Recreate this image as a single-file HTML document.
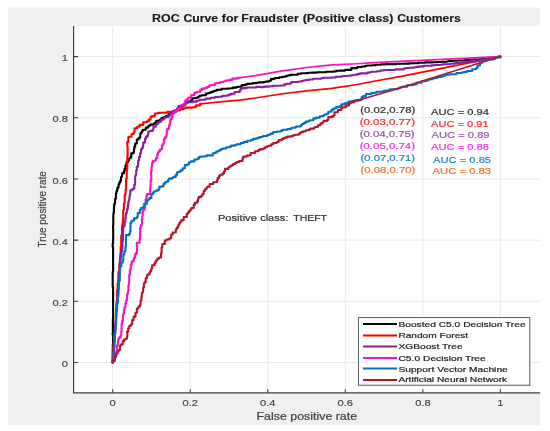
<!DOCTYPE html>
<html lang="en">
<head>
<meta charset="utf-8">
<title>ROC Curve for Fraudster (Positive class) Customers</title>
<style>
html,body{margin:0;padding:0;background:#ffffff;}
body{width:550px;height:431px;overflow:hidden;position:relative;font-family:"Liberation Sans",Arial,Helvetica,sans-serif;}
</style>
</head>
<body>
<svg width="550" height="431" viewBox="0 0 550 431" style="display:block;position:absolute;left:0;top:0;filter:blur(0.35px)" font-family="'Liberation Sans', Arial, Helvetica, sans-serif">
<rect x="0" y="0" width="550" height="431" fill="#ffffff"/>
<rect x="8" y="7.5" width="532.2" height="417.4" fill="#f0f0f0"/>
<rect x="73.6" y="26.0" width="466.6" height="366.8" fill="#ffffff"/>
<path d="M112.7,26.0 V392.8 M73.6,362.5 H540.2 M190.2,26.0 V392.8 M73.6,301.3 H540.2 M267.8,26.0 V392.8 M73.6,240.1 H540.2 M345.3,26.0 V392.8 M73.6,179.0 H540.2 M422.9,26.0 V392.8 M73.6,117.8 H540.2 M500.4,26.0 V392.8 M73.6,56.6 H540.2" stroke="#e6e6e6" stroke-width="0.9" fill="none"/>
<path d="M112.7,362.5 L112.7,360.4 L112.7,360.4 L112.7,360.4 L112.7,358.9 L112.7,358.9 L112.7,357.0 L112.7,357.0 L112.7,354.8 L112.7,354.8 L112.7,353.6 L112.7,351.6 L112.7,351.6 L112.7,349.6 L112.8,349.6 L112.8,349.6 L112.8,348.1 L112.8,348.1 L112.8,345.7 L112.8,343.9 L113.0,343.9 L113.0,342.2 L113.0,342.2 L113.0,342.2 L113.0,340.1 L113.0,340.1 L113.0,338.6 L113.0,338.6 L113.0,336.8 L113.0,335.0 L112.7,335.0 L112.7,332.9 L112.9,332.9 L112.9,331.6 L112.9,331.6 L112.9,331.6 L112.9,329.8 L112.9,329.8 L112.9,327.8 L112.9,325.4 L112.9,325.4 L112.9,323.9 L112.9,323.9 L112.9,322.2 L112.9,322.2 L112.9,320.2 L112.9,320.2 L112.9,318.3 L113.1,318.3 L113.1,316.6 L113.1,316.6 L113.1,316.6 L113.1,314.9 L113.1,314.9 L113.1,312.9 L113.1,312.9 L113.1,310.7 L113.1,310.7 L113.1,309.3 L113.1,307.1 L113.1,307.1 L113.1,305.3 L113.1,305.3 L113.1,303.8 L113.1,303.8 L113.1,303.8 L113.1,301.6 L113.1,301.6 L113.1,300.2 L113.1,300.2 L113.1,297.7 L113.1,297.7 L113.1,296.2 L113.1,296.2 L113.1,294.2 L113.1,292.8 L113.1,292.8 L113.1,290.6 L113.1,290.6 L113.1,289.0 L113.1,289.0 L113.1,289.0 L113.1,287.1 L112.7,287.1 L112.7,285.0 L112.7,285.0 L112.7,283.3 L112.7,283.3 L112.7,281.1 L112.7,281.1 L112.7,279.2 L112.7,279.2 L112.7,277.4 L112.7,276.2 L112.7,276.2 L112.7,276.2 L112.7,273.9 L112.7,272.0 L112.7,272.0 L113.1,272.0 L113.1,270.4 L113.1,270.4 L113.1,268.3 L113.1,268.3 L113.1,267.1 L113.1,265.4 L113.1,265.4 L113.1,265.4 L113.1,263.2 L113.1,261.7 L113.1,261.7 L113.1,261.7 L113.1,259.4 L113.1,257.9 L113.1,257.9 L113.1,257.9 L113.1,255.8 L113.1,254.5 L113.1,254.5 L113.1,252.5 L113.1,252.5 L113.1,252.5 L113.1,250.5 L113.1,250.5 L113.1,248.3 L113.1,247.0 L113.1,247.0 L112.7,247.0 L112.7,245.0 L112.7,243.5 L113.1,243.5 L113.1,243.5 L113.1,241.0 L113.1,239.1 L113.1,239.1 L113.2,239.1 L113.2,237.7 L113.2,237.7 L113.2,235.8 L113.2,234.0 L113.2,234.0 L113.2,234.0 L113.2,231.8 L113.2,229.8 L113.2,229.8 L113.2,228.0 L113.0,228.0 L113.0,225.9 L113.0,225.9 L113.3,225.9 L113.3,223.7 L113.3,222.3 L113.3,222.3 L113.3,220.3 L113.3,220.3 L113.3,217.9 L113.4,217.9 L113.3,217.9 L113.3,216.0 L113.3,214.4 L113.3,214.4 L113.6,214.4 L113.6,212.4 L114.0,212.4 L114.0,210.4 L114.0,210.4 L114.0,208.0 L114.1,208.0 L114.1,206.1 L114.2,206.1 L114.2,204.3 L114.9,204.3 L114.9,202.4 L115.1,202.4 L115.1,201.0 L115.1,198.8 L115.8,198.8 L115.9,198.8 L115.9,196.6 L115.9,194.8 L116.0,194.8 L116.0,193.3 L116.4,193.3 L116.4,191.5 L117.1,191.5 L117.1,189.7 L117.5,189.7 L117.5,187.5 L118.5,187.5 L118.5,185.8 L118.6,185.8 L118.6,184.2 L119.4,184.2 L119.4,182.3 L120.3,182.3 L120.3,180.5 L120.5,180.5 L121.0,180.5 L121.0,178.7 L121.0,177.0 L122.0,177.0 L122.0,175.0 L122.2,175.0 L122.2,173.1 L122.8,173.1 L124.1,173.1 L124.1,170.8 L124.6,170.8 L124.6,168.7 L125.4,168.7 L125.4,167.1 L125.4,165.5 L126.3,165.5 L126.3,163.7 L126.6,163.7 L126.6,162.1 L127.4,162.1 L128.2,162.1 L128.2,160.3 L129.2,160.3 L129.2,158.2 L130.7,158.2 L130.7,156.9 L131.3,156.9 L131.3,155.0 L131.3,153.3 L132.3,153.3 L133.6,153.3 L133.6,151.8 L134.0,151.8 L134.0,149.2 L134.3,149.2 L134.3,146.7 L135.2,146.7 L135.2,145.0 L135.2,143.5 L136.4,143.5 L136.8,143.5 L136.8,141.6 L136.8,139.5 L137.6,139.5 L138.7,139.5 L138.7,137.7 L140.2,137.7 L140.2,136.5 L140.2,134.8 L140.6,134.8 L140.6,132.7 L141.9,132.7 L141.9,131.1 L142.8,131.1 L142.8,129.8 L144.4,129.8 L145.8,129.8 L145.8,129.1 L145.8,127.6 L147.0,127.6 L148.3,127.6 L148.3,127.0 L148.3,125.8 L150.1,125.8 L150.1,124.6 L151.6,124.6 L153.4,124.6 L153.4,124.0 L154.7,124.0 L154.7,122.7 L156.3,122.7 L156.3,121.7 L156.3,120.7 L158.3,120.7 L159.7,120.7 L159.7,119.8 L161.5,119.8 L161.5,118.1 L163.6,118.1 L163.6,117.2 L165.6,117.2 L165.6,116.3 L167.2,116.3 L167.2,115.6 L169.3,115.6 L169.3,114.2 L169.3,113.2 L171.1,113.2 L172.8,113.2 L172.8,112.8 L172.8,111.4 L174.5,111.4 L176.2,111.4 L176.2,110.3 L177.4,110.3 L177.4,108.6 L178.7,108.6 L178.7,107.9 L178.7,106.2 L180.3,106.2 L182.4,106.2 L182.4,105.5 L183.6,105.5 L183.6,104.1 L185.3,104.1 L185.3,103.1 L185.3,102.0 L187.2,102.0 L189.4,102.0 L189.4,101.2 L191.2,101.2 L191.2,100.1 L192.3,100.1 L192.3,99.2 L192.3,98.3 L194.5,98.3 L196.1,98.3 L196.1,97.7 L198.0,97.7 L198.0,96.7 L199.6,96.7 L199.6,96.0 L199.6,95.8 L201.6,95.8 L201.6,95.2 L203.8,95.2 L205.8,95.2 L205.8,94.4 L205.8,93.6 L207.7,93.6 L207.7,93.2 L209.1,93.2 L209.1,92.8 L210.6,92.8 L210.6,92.1 L212.8,92.1 L212.8,91.2 L214.3,91.2 L214.3,90.8 L216.6,90.8 L216.6,89.9 L218.2,89.9 L218.2,89.8 L220.3,89.8 L221.6,89.8 L221.6,89.0 L221.6,88.8 L223.5,88.8 L223.5,88.8 L225.4,88.8 L227.3,88.8 L227.3,88.6 L227.3,88.5 L229.2,88.5 L230.8,88.5 L230.8,88.2 L232.8,88.2 L232.8,87.6 L234.2,87.6 L234.2,87.6 L236.4,87.6 L236.4,87.6 L236.4,87.0 L237.9,87.0 L237.9,86.8 L239.8,86.8 L241.7,86.8 L241.7,86.1 L241.7,85.1 L243.2,85.1 L245.3,85.1 L245.3,84.5 L247.2,84.5 L247.2,83.9 L247.2,83.9 L248.8,83.9 L248.8,83.7 L251.0,83.7 L252.7,83.7 L252.7,83.6 L252.7,83.1 L254.8,83.1 L256.7,83.1 L256.7,82.8 L258.5,82.8 L258.5,82.8 L258.5,82.4 L259.9,82.4 L261.7,82.4 L261.7,82.4 L263.8,82.4 L263.8,82.4 L263.8,82.0 L265.6,82.0 L265.6,81.5 L267.5,81.5 L269.2,81.5 L269.2,80.7 L271.0,80.7 L271.0,79.1 L273.3,79.1 L273.3,78.7 L275.0,78.7 L275.0,78.0 L277.0,78.0 L277.0,78.0 L279.2,78.0 L279.2,77.8 L279.2,77.3 L281.2,77.3 L282.6,77.3 L282.6,76.7 L285.1,76.7 L285.1,76.4 L286.5,76.4 L286.5,75.8 L288.5,75.8 L288.5,75.6 L288.5,75.2 L290.6,75.2 L290.6,74.9 L291.9,74.9 L291.9,74.7 L293.6,74.7 L293.6,74.7 L296.0,74.7 L296.0,74.7 L297.8,74.7 L297.8,73.7 L299.4,73.7 L299.4,73.7 L301.0,73.7 L301.0,73.2 L302.6,73.2 L304.3,73.2 L304.3,73.2 L306.4,73.2 L306.4,73.1 L308.4,73.1 L308.4,73.1 L308.4,72.8 L310.2,72.8 L311.8,72.8 L311.8,72.6 L313.4,72.6 L313.4,72.6 L313.4,72.6 L315.2,72.6 L317.2,72.6 L317.2,72.3 L318.8,72.3 L318.8,72.3 L318.8,72.2 L320.7,72.2 L323.0,72.2 L323.0,72.2 L324.5,72.2 L324.5,72.2 L326.2,72.2 L326.2,71.7 L326.2,71.7 L328.5,71.7 L330.1,71.7 L330.1,71.7 L331.8,71.7 L331.8,71.8 L333.5,71.8 L333.5,71.5 L333.5,71.5 L336.0,71.5 L336.0,70.8 L337.2,70.8 L337.2,70.8 L339.8,70.8 L339.8,70.6 L341.0,70.6 L341.0,70.6 L343.5,70.6 L345.0,70.6 L345.0,69.9 L345.0,70.0 L347.1,70.0 L347.1,69.9 L349.3,69.9 L351.3,69.9 L351.3,69.2 L351.3,68.1 L353.3,68.1 L353.3,68.1 L355.0,68.1 L357.3,68.1 L357.3,67.5 L357.3,67.0 L359.1,67.0 L361.6,67.0 L361.6,66.5 L363.5,66.5 L363.5,66.5 L365.3,66.5 L365.3,66.2 L365.3,65.8 L367.5,65.8 L367.5,65.5 L369.7,65.5 L372.0,65.5 L372.0,65.3 L372.0,65.3 L373.4,65.3 L375.5,65.3 L375.5,64.7 L377.7,64.7 L377.7,64.7 L379.7,64.7 L379.7,64.7 L381.2,64.7 L381.2,64.5 L381.2,64.3 L383.7,64.3 L383.7,64.4 L385.5,64.4 L385.5,64.1 L387.3,64.1 L389.0,64.1 L389.0,64.1 L390.7,64.1 L390.7,64.1 L393.1,64.1 L393.1,64.1 L393.1,64.1 L394.3,64.1 L396.7,64.1 L396.7,63.8 L398.0,63.8 L398.0,63.8 L400.0,63.8 L400.0,64.0 L400.0,63.8 L401.5,63.8 L401.5,63.8 L403.9,63.8 L405.8,63.8 L405.8,63.6 L407.6,63.6 L407.6,63.6 L409.2,63.6 L409.2,63.4 L410.8,63.4 L410.8,63.2 L410.8,63.2 L412.6,63.2 L414.2,63.2 L414.2,63.2 L414.2,63.2 L416.2,63.2 L418.1,63.2 L418.1,62.7 L419.9,62.7 L419.9,62.7 L421.7,62.7 L421.7,62.7 L421.7,62.7 L423.6,62.7 L425.1,62.7 L425.1,62.4 L425.1,62.4 L427.6,62.4 L429.4,62.4 L429.4,62.4 L431.3,62.4 L431.3,62.4 L432.9,62.4 L432.9,62.2 L432.9,62.2 L434.1,62.2 L436.5,62.2 L436.5,62.2 L436.5,62.1 L438.0,62.1 L438.0,62.0 L440.0,62.0 L441.7,62.0 L441.7,61.7 L443.6,61.7 L443.6,61.7 L443.6,61.7 L445.7,61.7 L447.5,61.7 L447.5,61.6 L447.5,61.3 L448.9,61.3 L448.9,61.0 L450.6,61.0 L452.5,61.0 L452.5,60.8 L452.5,60.8 L454.6,60.8 L456.7,60.8 L456.7,60.8 L457.8,60.8 L457.8,60.5 L460.2,60.5 L460.2,60.5 L460.2,60.5 L461.8,60.5 L461.8,60.5 L463.8,60.5 L465.2,60.5 L465.2,60.5 L465.2,60.1 L467.3,60.1 L468.9,60.1 L468.9,59.9 L468.9,59.9 L470.6,59.9 L470.6,59.8 L472.6,59.8 L472.6,59.5 L474.6,59.5 L476.5,59.5 L476.5,59.5 L476.5,59.5 L478.2,59.5 L478.2,59.4 L480.0,59.4 L481.5,59.4 L481.5,59.0 L481.5,59.0 L483.5,59.0 L483.5,58.5 L485.9,58.5 L485.9,58.2 L487.4,58.2 L487.4,57.8 L489.6,57.8 L491.2,57.8 L491.2,57.6 L492.7,57.6 L492.7,57.4 L494.9,57.4 L494.9,57.4 L494.9,57.0 L496.3,57.0 L498.3,57.0 L498.3,56.7 L498.3,56.6 L500.4,56.6" stroke="#000000" stroke-width="2.1" fill="none" stroke-linejoin="round" stroke-linecap="round"/>
<path d="M112.7,362.5 L112.8,362.5 L112.8,360.1 L112.8,358.4 L112.8,358.4 L112.8,356.0 L112.8,356.0 L113.0,356.0 L113.0,354.0 L113.0,351.9 L113.5,351.9 L113.2,351.9 L113.2,350.0 L113.2,348.4 L113.3,348.4 L113.3,346.0 L113.4,346.0 L113.4,344.0 L113.5,344.0 L113.8,344.0 L113.8,342.8 L114.3,342.8 L114.3,340.6 L114.3,338.8 L114.3,338.8 L114.3,336.5 L114.7,336.5 L114.5,336.5 L114.5,335.0 L114.6,335.0 L114.6,332.9 L114.7,332.9 L114.7,331.7 L114.7,329.7 L114.8,329.7 L114.8,327.3 L114.8,327.3 L115.4,327.3 L115.4,325.8 L115.4,323.8 L115.5,323.8 L115.5,323.8 L115.5,322.4 L115.6,322.4 L115.6,320.0 L115.8,320.0 L115.8,318.7 L115.8,316.5 L115.8,316.5 L115.8,316.5 L115.8,314.4 L116.0,314.4 L116.0,313.2 L116.0,313.2 L116.0,311.2 L116.0,308.9 L116.3,308.9 L116.3,308.9 L116.3,307.4 L116.3,307.4 L116.3,305.5 L116.3,303.6 L116.5,303.6 L116.5,303.6 L116.5,301.7 L116.8,301.7 L116.8,299.9 L117.0,299.9 L117.0,298.3 L117.0,298.3 L117.0,296.2 L117.0,296.2 L117.0,294.3 L117.1,294.3 L117.1,292.5 L117.1,290.3 L117.4,290.3 L117.7,290.3 L117.7,288.7 L117.7,286.8 L117.7,286.8 L117.7,286.8 L117.7,285.0 L117.7,283.6 L118.1,283.6 L118.1,281.1 L118.3,281.1 L118.3,279.8 L118.3,279.8 L118.3,277.9 L118.3,277.9 L118.3,275.7 L118.3,275.7 L118.4,275.7 L118.4,274.3 L118.4,271.8 L119.1,271.8 L119.3,271.8 L119.3,270.0 L119.3,270.0 L119.3,268.3 L119.3,266.3 L119.3,266.3 L119.6,266.3 L119.6,265.0 L119.6,262.6 L119.9,262.6 L119.9,260.9 L119.9,260.9 L119.9,259.3 L120.0,259.3 L120.0,257.7 L120.0,257.7 L120.3,257.7 L120.3,255.5 L120.3,253.5 L120.7,253.5 L120.7,251.7 L120.7,251.7 L120.7,249.8 L120.7,249.8 L120.7,249.8 L120.7,248.5 L120.7,246.8 L121.0,246.8 L121.2,246.8 L121.2,244.4 L121.2,242.5 L121.2,242.5 L121.2,240.9 L121.2,240.9 L121.2,238.9 L121.2,238.9 L121.2,238.9 L121.2,236.9 L121.3,236.9 L121.3,235.4 L121.8,235.4 L121.8,233.7 L122.0,233.7 L122.0,231.8 L122.0,230.0 L122.0,230.0 L122.0,230.0 L122.0,227.9 L122.0,226.6 L122.4,226.6 L122.4,226.6 L122.4,224.3 L122.8,224.3 L122.8,222.7 L122.8,220.7 L123.0,220.7 L123.0,218.7 L123.2,218.7 L123.2,218.7 L123.2,217.1 L123.2,214.9 L123.2,214.9 L123.2,213.4 L123.2,213.4 L123.2,211.3 L123.4,211.3 L123.4,209.8 L123.9,209.8 L123.9,209.8 L123.9,207.7 L123.9,206.3 L123.9,206.3 L123.9,203.8 L124.5,203.8 L124.5,202.3 L124.7,202.3 L124.7,202.3 L124.7,200.5 L124.7,200.5 L124.7,198.4 L124.7,196.7 L124.7,196.7 L124.7,195.3 L125.3,195.3 L125.3,195.3 L125.3,193.3 L125.6,193.3 L125.6,191.4 L125.6,191.4 L125.6,189.9 L126.0,189.9 L126.0,187.4 L126.0,186.1 L126.0,186.1 L126.0,184.0 L126.1,184.0 L126.1,182.1 L126.1,182.1 L126.1,180.6 L126.3,180.6 L126.3,178.6 L126.7,178.6 L126.7,178.6 L126.7,177.1 L126.7,175.0 L126.6,175.0 L126.7,175.0 L126.7,173.0 L126.7,170.9 L126.9,170.9 L126.9,170.9 L126.9,169.0 L127.3,169.0 L127.3,167.4 L127.3,165.3 L127.3,165.3 L127.3,164.0 L127.3,164.0 L127.3,164.0 L127.3,162.0 L127.3,160.3 L127.5,160.3 L127.3,160.3 L127.3,158.2 L127.3,156.5 L127.6,156.5 L127.6,156.5 L127.6,154.0 L127.6,152.5 L127.6,152.5 L127.6,150.5 L127.6,150.5 L127.6,150.5 L127.6,147.9 L127.6,147.9 L127.6,146.0 L127.3,146.0 L127.3,144.2 L127.3,144.2 L127.3,141.9 L128.3,141.9 L128.3,139.8 L128.3,137.8 L128.5,137.8 L128.5,136.8 L130.2,136.8 L131.5,136.8 L131.5,135.2 L131.5,134.0 L133.6,134.0 L133.6,132.3 L134.1,132.3 L134.6,132.3 L134.6,130.5 L134.6,128.3 L135.5,128.3 L137.2,128.3 L137.2,126.8 L139.6,126.8 L139.6,126.4 L139.6,124.9 L141.3,124.9 L143.2,124.9 L143.2,123.8 L143.2,122.2 L145.1,122.2 L146.8,122.2 L146.8,121.3 L148.9,121.3 L148.9,119.5 L150.6,119.5 L150.6,118.3 L150.6,116.8 L152.0,116.8 L152.0,116.1 L153.6,116.1 L154.8,116.1 L154.8,114.6 L154.8,113.5 L156.4,113.5 L157.9,113.5 L157.9,113.5 L157.9,112.9 L159.8,112.9 L159.8,112.8 L161.9,112.8 L161.9,112.7 L163.5,112.7 L163.5,112.7 L165.7,112.7 L167.3,112.7 L167.3,112.3 L167.3,111.8 L169.0,111.8 L171.0,111.8 L171.0,111.8 L171.0,111.8 L172.7,111.8 L174.5,111.8 L174.5,111.4 L176.3,111.4 L176.3,111.2 L176.3,110.2 L177.9,110.2 L180.3,110.2 L180.3,109.6 L180.3,109.2 L181.6,109.2 L183.4,109.2 L183.4,108.7 L183.4,108.3 L185.5,108.3 L185.5,107.7 L187.5,107.7 L187.5,107.6 L188.8,107.6 L191.1,107.6 L191.1,107.6 L192.5,107.6 L192.5,107.2 L194.5,107.2 L194.5,106.8 L196.2,106.8 L196.2,105.7 L196.2,105.4 L198.4,105.4 L200.1,105.4 L200.1,104.4 L200.1,103.7 L201.8,103.7" stroke="#ff0000" stroke-width="2.1" fill="none" stroke-linejoin="round" stroke-linecap="round"/>
<path d="M201.8,103.7 L220.0,101.9 L239.8,100.1 L255.5,98.0 L280.9,94.0 L306.4,90.9 L331.8,88.4 L357.3,84.5 L369.7,82.0 L400.0,76.6 L500.4,56.6" stroke="#ff0000" stroke-width="1.6" fill="none" stroke-linejoin="round" stroke-linecap="round"/>
<path d="M112.7,362.5 L112.7,360.6 L112.8,360.6 L112.8,358.4 L113.0,358.4 L113.0,356.0 L113.1,356.0 L113.1,354.3 L113.6,354.3 L113.6,352.0 L113.5,352.0 L113.8,352.0 L113.8,350.2 L113.8,350.2 L113.8,348.3 L113.8,346.6 L113.9,346.6 L114.3,346.6 L114.3,344.2 L114.3,344.2 L114.3,342.7 L114.6,342.7 L114.6,341.0 L114.8,341.0 L114.8,339.0 L114.8,339.0 L114.8,337.3 L114.8,335.0 L115.0,335.0 L115.0,333.4 L115.0,333.4 L115.0,331.0 L115.2,331.0 L115.2,329.6 L115.4,329.6 L115.4,327.9 L115.6,327.9 L115.6,327.9 L115.6,326.1 L115.6,323.9 L115.8,323.9 L115.8,323.9 L115.8,322.5 L115.8,322.5 L115.8,320.1 L115.8,320.1 L115.8,318.3 L116.3,318.3 L116.3,316.4 L116.3,314.9 L116.3,314.9 L116.3,312.7 L116.4,312.7 L116.4,312.7 L116.4,310.8 L116.4,309.4 L116.8,309.4 L116.8,309.4 L116.8,307.4 L116.8,305.5 L116.8,305.5 L116.8,303.7 L116.8,303.7 L117.3,303.7 L117.3,301.7 L117.3,299.6 L117.3,299.6 L117.3,299.6 L117.3,298.3 L117.4,298.3 L117.4,296.0 L117.4,293.9 L117.4,293.9 L117.6,293.9 L117.6,292.3 L117.6,290.5 L117.9,290.5 L117.9,288.6 L118.2,288.6 L118.2,286.5 L118.5,286.5 L118.5,285.0 L118.4,285.0 L118.4,282.8 L118.7,282.8 L118.7,282.8 L118.7,280.7 L119.1,280.7 L119.1,279.3 L119.1,279.3 L119.1,277.0 L119.2,277.0 L119.2,275.2 L119.4,275.2 L119.4,273.6 L119.4,271.5 L119.6,271.5 L119.6,269.8 L119.6,269.8 L119.6,267.3 L119.8,267.3 L119.8,265.6 L119.6,265.6 L119.6,263.7 L120.1,263.7 L120.2,263.7 L120.2,261.7 L120.2,261.7 L120.2,260.1 L120.7,260.1 L120.7,258.0 L120.7,256.5 L121.0,256.5 L121.0,256.5 L121.0,254.9 L121.0,252.9 L121.7,252.9 L121.7,250.9 L121.8,250.9 L122.2,250.9 L122.2,249.1 L122.4,249.1 L122.4,247.3 L122.4,245.4 L122.5,245.4 L122.5,243.8 L122.5,243.8 L122.5,243.8 L122.5,241.8 L122.8,241.8 L122.8,239.7 L123.0,239.7 L123.0,237.5 L123.0,237.5 L123.0,235.9 L123.0,233.8 L123.0,233.8 L123.0,231.7 L123.3,231.7 L123.1,231.7 L123.1,230.0 L123.1,227.8 L123.6,227.8 L123.6,225.9 L124.1,225.9 L124.6,225.9 L124.6,224.2 L124.6,221.9 L124.7,221.9 L125.3,221.9 L125.3,220.4 L125.3,218.6 L125.8,218.6 L125.8,218.6 L125.8,216.2 L125.8,214.8 L126.1,214.8 L126.1,212.8 L126.9,212.8 L126.9,210.7 L127.2,210.7 L127.2,208.8 L127.7,208.8 L127.9,208.8 L127.9,206.8 L127.9,204.9 L128.3,204.9 L128.3,204.9 L128.3,202.9 L128.3,201.6 L129.0,201.6 L129.0,199.7 L129.0,199.7 L129.4,199.7 L129.4,197.4 L129.6,197.4 L129.6,195.7 L130.0,195.7 L130.0,194.3 L130.3,194.3 L130.3,191.8 L130.3,190.3 L130.5,190.3 L132.5,190.3 L132.5,188.7 L134.3,188.7 L134.3,186.5 L134.3,184.7 L134.4,184.7 L135.1,184.7 L135.1,182.6 L135.1,182.6 L135.1,180.9 L135.1,180.9 L135.1,178.4 L135.1,176.6 L135.4,176.6 L135.5,176.6 L135.5,175.0 L136.2,175.0 L136.2,172.5 L136.2,170.4 L136.5,170.4 L136.8,170.4 L136.8,168.4 L136.8,166.7 L136.9,166.7 L138.0,166.7 L138.0,164.8 L138.2,164.8 L138.2,162.8 L138.2,160.5 L138.9,160.5 L139.1,160.5 L139.1,158.4 L139.1,156.9 L139.4,156.9 L140.2,156.9 L140.2,154.7 L140.2,153.0 L140.7,153.0 L141.0,153.0 L141.0,151.1 L141.0,149.6 L141.6,149.6 L141.8,149.6 L141.8,148.1 L142.8,148.1 L142.8,146.1 L143.2,146.1 L143.2,144.2 L143.2,142.6 L144.3,142.6 L145.0,142.6 L145.0,140.2 L145.0,138.6 L146.1,138.6 L146.1,136.6 L146.5,136.6 L147.7,136.6 L147.7,134.7 L148.3,134.7 L148.3,132.7 L148.3,131.5 L150.1,131.5 L150.1,130.9 L151.3,130.9 L152.7,130.9 L152.7,129.5 L153.4,129.5 L153.4,127.8 L153.4,126.8 L154.9,126.8 L155.9,126.8 L155.9,125.1 L155.9,124.2 L157.7,124.2 L157.7,122.7 L159.0,122.7 L159.0,121.9 L160.8,121.9 L160.8,120.3 L161.9,120.3 L161.9,119.5 L163.6,119.5 L163.6,118.5 L164.9,118.5 L164.9,117.3 L166.5,117.3 L168.2,117.3 L168.2,115.8 L170.0,115.8 L170.0,115.1 L170.0,114.0 L171.1,114.0 L171.1,112.6 L172.7,112.6 L172.7,111.4 L174.5,111.4 L174.5,110.4 L176.1,110.4 L177.5,110.4 L177.5,109.1 L177.5,108.2 L179.5,108.2 L180.8,108.2 L180.8,107.3 L182.1,107.3 L182.1,106.7 L182.1,105.4 L183.8,105.4 L185.4,105.4 L185.4,104.3 L185.4,103.2 L187.3,103.2 L187.3,102.4 L188.7,102.4 L188.7,102.3 L191.2,102.3 L192.6,102.3 L192.6,102.1 L192.6,101.6 L194.9,101.6 L196.8,101.6 L196.8,100.8 L198.2,100.8 L198.2,100.5 L199.8,100.5 L199.8,99.8 L201.9,99.8 L201.9,99.8 L204.0,99.8 L204.0,99.8 L205.5,99.8 L205.5,99.0 L205.5,98.6 L207.6,98.6 L207.6,98.6 L209.2,98.6 L210.8,98.6 L210.8,98.0 L210.8,97.7 L212.7,97.7 L214.9,97.7 L214.9,97.2 L214.9,97.0 L216.2,97.0 L218.5,97.0 L218.5,97.0 L218.5,96.7 L220.2,96.7 L222.2,96.7 L222.2,95.9 L222.2,95.9 L223.9,95.9 L223.9,95.8 L225.3,95.8 L227.3,95.8 L227.3,95.4 L228.9,95.4 L228.9,94.6 L230.9,94.6 L230.9,93.9 L232.4,93.9 L232.4,93.7 L234.6,93.7 L234.6,92.6 L234.6,92.0 L236.6,92.0 L238.3,92.0 L238.3,91.9 L239.8,91.9 L239.8,91.0 L239.8,90.0 L240.9,90.0 L240.9,88.4 L242.7,88.4 L242.7,88.1 L244.6,88.1 L246.6,88.1 L246.6,88.1 L246.6,87.6 L248.4,87.6 L248.4,87.5 L250.7,87.5 L252.4,87.5 L252.4,87.5 L254.4,87.5 L254.4,87.5 L256.3,87.5 L256.3,87.4 L256.3,86.9 L258.8,86.9 L260.5,86.9 L260.5,87.1 L262.7,87.1 L262.7,87.1 L264.2,87.1 L264.2,86.7 L264.2,86.6 L265.8,86.6 L268.3,86.6 L268.3,86.6 L269.6,86.6 L269.6,86.6 L269.6,86.2 L271.8,86.2 L273.1,86.2 L273.1,86.2 L273.1,85.8 L275.0,85.8 L277.2,85.8 L277.2,85.8 L277.2,85.7 L279.4,85.7 L280.9,85.7 L280.9,85.8 L280.9,85.5 L282.5,85.5 L284.3,85.5 L284.3,84.4 L286.4,84.4 L286.4,84.2 L286.4,83.7 L287.9,83.7 L290.2,83.7 L290.2,83.2 L291.4,83.2 L291.4,82.7 L291.4,82.0 L293.6,82.0 L295.2,82.0 L295.2,82.0 L297.8,82.0 L297.8,81.7 L299.1,81.7 L299.1,81.5 L301.8,81.5 L301.8,80.7 L303.8,80.7 L303.8,80.5 L305.4,80.5 L305.4,80.4 L305.4,80.0 L307.5,80.0 L307.5,79.9 L309.1,79.9 L309.1,79.5 L311.4,79.5 L313.1,79.5 L313.1,79.5 L313.1,78.8 L315.3,78.8 L315.3,78.8 L317.3,78.8 L318.8,78.8 L318.8,78.8 L321.0,78.8 L321.0,78.5 L321.0,78.3 L322.2,78.3 L322.2,78.0 L324.0,78.0 L324.0,77.8 L326.0,77.8 L326.0,77.8 L328.2,77.8 L328.2,77.8 L329.6,77.8 L331.8,77.8 L331.8,77.7 L331.8,77.5 L333.5,77.5 L335.6,77.5 L335.6,76.9 L335.6,76.9 L337.4,76.9 L337.4,76.8 L339.4,76.8 L339.4,76.8 L341.4,76.8 L341.4,76.2 L343.6,76.2 L343.6,76.0 L345.7,76.0 L347.8,76.0 L347.8,75.7 L349.6,75.7 L349.6,75.6 L349.6,75.6 L351.4,75.6 L351.4,75.3 L353.6,75.3 L353.6,74.8 L354.7,74.8 L357.3,74.8 L357.3,74.3 L357.3,74.1 L358.8,74.1 L358.8,73.9 L360.2,73.9 L360.2,73.4 L362.0,73.4 L362.0,73.4 L364.4,73.4 L364.4,73.4 L366.3,73.4 L367.5,73.4 L367.5,73.0 L367.5,72.6 L369.7,72.6 L369.7,72.3 L371.3,72.3 L371.3,71.7 L373.4,71.7 L375.0,71.7 L375.0,71.7 L376.7,71.7 L376.7,71.3 L376.7,71.2 L378.7,71.2 L380.4,71.2 L380.4,70.5 L382.3,70.5 L382.3,70.4 L384.0,70.4 L384.0,70.0 L386.2,70.0 L386.2,70.0 L386.2,70.0 L387.9,70.0 L387.9,70.0 L390.3,70.0 L391.9,70.0 L391.9,70.0 L394.2,70.0 L394.2,69.8 L395.9,69.8 L395.9,69.4 L395.9,69.4 L398.0,69.4 L400.0,69.4 L400.0,69.4 L401.7,69.4 L401.7,69.4 L403.7,69.4 L403.7,68.9 L403.7,68.5 L405.8,68.5 L405.8,68.0 L407.0,68.0 L409.0,68.0 L409.0,67.8 L410.9,67.8 L410.9,67.8 L410.9,67.8 L412.5,67.8 L414.3,67.8 L414.3,67.2 L414.3,67.2 L416.5,67.2 L416.5,66.9 L418.4,66.9 L418.4,66.6 L420.0,66.6 L420.0,66.4 L422.1,66.4 L423.9,66.4 L423.9,66.4 L423.9,65.7 L425.9,65.7 L425.9,65.7 L427.6,65.7 L427.6,65.7 L429.4,65.7 L431.5,65.7 L431.5,65.7 L431.5,65.4 L433.1,65.4 L433.1,65.2 L434.8,65.2 L434.8,65.0 L436.8,65.0 L439.0,65.0 L439.0,65.0 L440.4,65.0 L440.4,64.7 L442.6,64.7 L442.6,64.7 L442.6,64.3 L444.7,64.3 L446.5,64.3 L446.5,64.3 L448.1,64.3 L448.1,64.3 L450.0,64.3 L450.0,64.0 L450.0,63.8 L451.9,63.8 L451.9,63.6 L454.0,63.6 L454.0,63.4 L455.6,63.4 L455.6,63.0 L457.4,63.0 L457.4,63.0 L459.3,63.0 L461.3,63.0 L461.3,62.4 L461.3,62.4 L463.0,62.4 L465.3,62.4 L465.3,62.4 L465.3,62.2 L466.8,62.2 L466.8,61.9 L468.6,61.9 L468.6,61.5 L470.4,61.5 L472.8,61.5 L472.8,61.5 L472.8,61.4 L474.7,61.4 L476.6,61.4 L476.6,61.3 L476.6,60.6 L477.9,60.6 L477.9,60.6 L480.0,60.6 L480.0,60.0 L481.6,60.0 L481.6,59.8 L483.8,59.8 L485.7,59.8 L485.7,59.1 L485.7,59.0 L487.6,59.0 L487.6,58.6 L488.9,58.6 L491.2,58.6 L491.2,58.6 L493.0,58.6 L493.0,58.1 L493.0,57.7 L495.0,57.7 L496.8,57.7 L496.8,57.3 L498.3,57.3 L498.3,57.2 L500.4,57.2 L500.4,56.6" stroke="#8a1fa0" stroke-width="2.1" fill="none" stroke-linejoin="round" stroke-linecap="round"/>
<path d="M112.7,362.5 L112.7,360.6 L113.3,360.6 L114.5,360.6 L114.5,359.0 L114.9,359.0 L114.9,357.1 L114.9,355.0 L116.1,355.0 L116.3,355.0 L116.3,352.9 L116.3,351.6 L116.3,351.6 L116.8,351.6 L116.8,349.4 L116.8,347.8 L116.9,347.8 L116.9,345.6 L117.9,345.6 L117.9,343.4 L117.9,343.4 L117.9,341.8 L118.3,341.8 L118.3,339.9 L118.6,339.9 L118.6,338.2 L118.6,338.2 L119.7,338.2 L119.7,336.9 L120.9,336.9 L120.9,334.9 L121.3,334.9 L121.3,332.6 L121.3,330.8 L121.6,330.8 L121.6,330.8 L121.6,328.6 L121.6,328.6 L121.6,327.2 L121.6,324.4 L121.9,324.4 L121.9,324.4 L121.9,322.7 L122.2,322.7 L122.2,320.7 L122.9,320.7 L122.9,318.7 L122.9,318.7 L122.9,316.7 L123.0,316.7 L123.0,315.1 L123.5,315.1 L123.5,313.3 L124.0,313.3 L124.0,311.5 L124.0,309.6 L124.6,309.6 L124.6,307.3 L124.7,307.3 L125.4,307.3 L125.4,305.5 L125.4,303.4 L126.1,303.4 L126.1,303.4 L126.1,301.6 L126.2,301.6 L126.2,300.2 L127.1,300.2 L127.1,298.3 L127.1,298.3 L127.1,296.4 L127.1,294.2 L127.8,294.2 L127.8,292.7 L127.9,292.7 L127.9,292.7 L127.9,291.1 L128.4,291.1 L128.4,289.1 L128.4,289.1 L128.4,286.9 L128.4,285.3 L128.9,285.3 L128.9,285.3 L128.9,283.7 L129.0,283.7 L129.0,281.7 L129.2,281.7 L129.2,280.0 L129.2,277.9 L129.2,277.9 L129.2,276.3 L129.2,276.3 L129.2,274.5 L129.2,274.5 L129.9,274.5 L129.9,272.8 L129.9,270.1 L129.9,270.1 L130.5,270.1 L130.5,268.3 L130.8,268.3 L130.8,266.6 L130.8,264.4 L131.1,264.4 L131.8,264.4 L131.8,262.9 L131.8,261.4 L132.4,261.4 L133.7,261.4 L133.7,259.1 L134.1,259.1 L134.1,257.6 L135.1,257.6 L135.1,255.8 L135.1,254.3 L136.1,254.3 L136.1,252.9 L136.8,252.9 L137.0,252.9 L137.0,250.5 L137.0,250.5 L137.0,248.3 L137.1,248.3 L137.1,246.4 L136.8,246.4 L136.8,244.0 L136.8,242.7 L139.4,242.7 L139.6,242.7 L139.6,240.5 L139.6,240.5 L139.6,239.3 L140.0,239.3 L140.0,237.5 L140.0,235.4 L140.0,235.4 L140.1,235.4 L140.1,233.5 L140.1,231.8 L140.3,231.8 L140.3,230.0 L140.0,230.0 L140.0,228.1 L140.8,228.1 L140.8,225.2 L141.2,225.2 L141.9,225.2 L141.9,223.4 L142.0,223.4 L142.0,221.8 L142.0,219.2 L142.3,219.2 L142.3,217.5 L142.4,217.5 L142.4,215.8 L142.7,215.8 L142.7,215.8 L142.7,213.5 L142.5,213.5 L142.5,211.9 L143.1,211.9 L143.1,210.0 L144.4,210.0 L144.4,208.6 L145.1,208.6 L145.1,206.8 L145.1,204.9 L145.4,204.9 L145.4,203.0 L145.5,203.0 L145.6,203.0 L145.6,201.4 L145.6,199.6 L146.4,199.6 L146.4,197.9 L146.4,197.9 L146.4,196.1 L146.7,196.1 L147.0,196.1 L147.0,194.1 L150.2,194.1 L150.2,192.8 L150.2,192.8 L150.2,190.6 L150.2,188.6 L150.2,188.6 L150.5,188.6 L150.5,186.6 L150.6,186.6 L150.6,184.8 L150.6,182.5 L150.6,182.5 L150.6,180.6 L151.0,180.6 L151.3,180.6 L151.3,179.0 L151.3,179.0 L151.3,176.9 L151.3,175.0 L151.1,175.0 L151.1,173.2 L151.1,173.2 L151.1,171.1 L151.6,171.1 L151.6,171.1 L151.6,168.5 L151.6,166.8 L151.6,166.8 L152.1,166.8 L152.1,164.5 L152.1,163.0 L152.8,163.0 L152.8,161.1 L154.3,161.1 L155.2,161.1 L155.2,160.0 L155.9,160.0 L155.9,158.2 L157.2,158.2 L157.2,156.3 L157.2,154.5 L158.0,154.5 L158.0,152.5 L158.8,152.5 L158.8,151.3 L160.1,151.3 L160.1,149.3 L161.0,149.3 L162.0,149.3 L162.0,147.6 L162.0,145.7 L162.0,145.7 L162.6,145.7 L162.6,144.4 L163.5,144.4 L163.5,142.9 L163.8,142.9 L163.8,140.8 L163.8,139.1 L164.8,139.1 L164.8,137.3 L165.0,137.3 L166.3,137.3 L166.3,135.0 L166.8,135.0 L166.8,133.0 L166.8,130.9 L167.2,130.9 L167.2,128.9 L168.0,128.9 L169.0,128.9 L169.0,126.4 L169.3,126.4 L169.3,124.6 L170.0,124.6 L170.0,122.3 L170.3,122.3 L170.3,120.3 L170.3,119.0 L171.7,119.0 L171.7,117.2 L172.4,117.2 L172.4,115.0 L172.7,115.0 L172.7,113.3 L173.2,113.3 L174.5,113.3 L174.5,111.4 L176.1,111.4 L176.1,110.5 L177.7,110.5 L177.7,108.8 L179.4,108.8 L179.4,107.4 L180.7,107.4 L180.7,106.5 L180.7,105.2 L182.2,105.2 L183.6,105.2 L183.6,104.1 L184.9,104.1 L184.9,102.9 L184.9,101.2 L185.9,101.2 L185.9,99.9 L187.5,99.9 L187.5,98.6 L188.6,98.6 L188.6,97.6 L189.9,97.6 L191.2,97.6 L191.2,96.4 L191.2,95.0 L192.7,95.0 L194.3,95.0 L194.3,93.7 L194.3,93.1 L195.5,93.1 L195.5,92.4 L197.4,92.4 L197.4,91.7 L198.6,91.7 L200.2,91.7 L200.2,90.7 L200.2,89.9 L201.8,89.9 L201.8,88.6 L203.6,88.6 L205.1,88.6 L205.1,88.0 L207.0,88.0 L207.0,87.0 L209.2,87.0 L209.2,86.1 L209.2,85.5 L211.1,85.5 L211.1,85.0 L212.8,85.0 L214.9,85.0 L214.9,84.3 L214.9,83.2 L216.4,83.2 L216.4,83.0 L218.1,83.0 L220.3,83.0 L220.3,82.0 L220.3,82.0 L222.0,82.0 L223.3,82.0 L223.3,81.5 L225.5,81.5 L225.5,81.2 L225.5,80.5 L227.3,80.5 L229.2,80.5 L229.2,79.9 L229.2,79.9 L230.8,79.9 L232.3,79.9 L232.3,78.9 L232.3,78.6 L234.7,78.6 L236.1,78.6 L236.1,78.6 L236.1,78.4 L237.7,78.4 L237.7,77.7 L239.8,77.7" stroke="#ff10bc" stroke-width="2.1" fill="none" stroke-linejoin="round" stroke-linecap="round"/>
<path d="M239.8,77.7 L255.5,75.6 L280.9,71.1 L306.4,67.5 L331.8,64.9 L357.3,63.7 L369.7,62.9 L400.0,61.4 L500.4,56.6" stroke="#ff10bc" stroke-width="1.6" fill="none" stroke-linejoin="round" stroke-linecap="round"/>
<path d="M112.7,362.5 L113.1,362.5 L113.1,361.0 L113.1,358.5 L113.1,358.5 L113.6,358.5 L113.6,357.1 L113.5,357.1 L113.5,355.0 L113.9,355.0 L113.9,353.3 L113.9,351.0 L113.9,351.0 L113.9,349.8 L113.9,349.8 L113.9,349.8 L113.9,347.5 L114.4,347.5 L114.4,345.9 L114.4,345.9 L114.4,343.8 L114.4,343.8 L114.4,342.0 L114.4,342.0 L114.4,340.3 L114.4,338.4 L114.4,338.4 L114.4,336.3 L114.4,336.3 L114.4,334.5 L114.7,334.5 L114.7,332.9 L114.8,332.9 L115.5,332.9 L115.5,331.4 L115.5,329.4 L115.5,329.4 L115.5,327.5 L115.6,327.5 L115.5,327.5 L115.5,325.5 L115.5,323.9 L115.5,323.9 L116.1,323.9 L116.1,322.0 L116.1,320.2 L116.1,320.2 L116.1,318.1 L116.2,318.1 L116.2,318.1 L116.2,316.1 L116.2,316.1 L116.2,315.0 L116.4,315.0 L116.4,312.6 L116.5,312.6 L116.5,310.7 L117.1,310.7 L117.1,309.1 L117.1,309.1 L117.1,307.2 L117.1,307.2 L117.1,305.5 L117.1,303.5 L117.1,303.5 L117.5,303.5 L117.5,302.1 L118.0,302.1 L118.0,299.9 L118.0,298.1 L118.0,298.1 L118.0,298.1 L118.0,296.4 L118.4,296.4 L118.4,293.9 L118.6,293.9 L118.6,292.2 L118.6,292.2 L118.6,290.2 L118.8,290.2 L118.8,288.4 L118.8,286.9 L118.8,286.9 L118.8,284.9 L119.0,284.9 L119.0,283.2 L119.0,283.2 L119.0,280.9 L119.4,280.9 L119.7,280.9 L119.7,279.2 L119.7,277.5 L119.7,277.5 L119.8,277.5 L119.8,276.0 L119.8,274.0 L119.8,274.0 L119.9,274.0 L119.9,272.1 L119.9,272.1 L119.9,270.0 L119.9,268.2 L120.3,268.2 L120.3,266.3 L120.8,266.3 L121.4,266.3 L121.4,264.3 L121.4,262.5 L122.5,262.5 L122.8,262.5 L122.8,260.5 L123.3,260.5 L123.3,258.8 L123.3,258.8 L123.3,256.4 L123.3,254.5 L124.3,254.5 L124.3,252.9 L124.5,252.9 L124.5,251.1 L125.0,251.1 L125.4,251.1 L125.4,249.1 L125.4,247.0 L125.7,247.0 L125.8,247.0 L125.8,245.5 L125.9,245.5 L125.9,243.7 L125.9,241.5 L125.9,241.5 L125.9,241.5 L125.9,239.1 L125.9,237.6 L126.0,237.6 L126.0,235.1 L128.5,235.1 L129.1,235.1 L129.1,233.8 L130.0,233.8 L130.0,231.4 L130.5,231.4 L130.5,230.0 L130.5,228.0 L130.5,228.0 L130.5,228.0 L130.5,226.4 L130.5,226.4 L130.5,224.0 L130.5,222.8 L131.5,222.8 L131.5,220.8 L132.7,220.8 L134.1,220.8 L134.1,220.2 L134.1,218.3 L135.6,218.3 L136.8,218.3 L136.8,217.0 L137.7,217.0 L137.7,215.5 L137.7,213.1 L139.0,213.1 L139.8,213.1 L139.8,212.0 L139.8,209.8 L140.9,209.8 L140.9,208.1 L141.9,208.1 L143.3,208.1 L143.3,206.4 L144.2,206.4 L144.2,205.1 L144.2,203.9 L145.5,203.9 L146.8,203.9 L146.8,202.6 L146.8,200.4 L148.3,200.4 L148.3,199.2 L149.5,199.2 L149.5,197.9 L150.3,197.9 L151.4,197.9 L151.4,196.0 L151.4,194.3 L152.9,194.3 L152.9,193.0 L153.7,193.0 L153.7,191.5 L154.6,191.5 L155.8,191.5 L155.8,190.7 L157.7,190.7 L157.7,189.6 L159.3,189.6 L159.3,188.6 L159.3,186.8 L160.0,186.8 L161.5,186.8 L161.5,186.4 L163.5,186.4 L163.5,184.7 L163.5,183.9 L164.8,183.9 L164.8,182.5 L166.0,182.5 L166.0,181.7 L168.0,181.7 L168.0,180.0 L169.0,180.0 L169.0,178.6 L171.1,178.6 L172.2,178.6 L172.2,177.7 L173.6,177.7 L173.6,176.9 L175.8,176.9 L175.8,174.9 L177.0,174.9 L177.0,174.0 L177.0,172.5 L178.3,172.5 L178.3,171.7 L179.4,171.7 L180.7,171.7 L180.7,170.2 L182.7,170.2 L182.7,169.0 L182.7,168.2 L184.0,168.2 L184.8,168.2 L184.8,166.4 L184.8,165.1 L186.0,165.1 L187.6,165.1 L187.6,164.3 L189.0,164.3 L189.0,163.0 L189.0,162.3 L190.9,162.3 L190.9,161.4 L192.5,161.4 L194.4,161.4 L194.4,160.6 L194.4,159.5 L195.7,159.5 L197.5,159.5 L197.5,158.6 L199.0,158.6 L199.0,158.3 L199.0,157.0 L201.0,157.0 L201.0,156.5 L203.3,156.5 L204.9,156.5 L204.9,156.2 L204.9,156.2 L206.7,156.2 L206.7,155.4 L209.3,155.4 L211.0,155.4 L211.0,155.4 L212.8,155.4 L212.8,154.5 L212.8,153.2 L214.8,153.2 L214.8,152.7 L216.4,152.7 L216.4,151.5 L218.3,151.5 L218.3,150.7 L219.8,150.7 L219.8,149.9 L221.2,149.9 L221.2,149.0 L223.0,149.0 L223.0,148.5 L224.6,148.5 L226.2,148.5 L226.2,147.9 L226.2,147.3 L228.5,147.3 L229.9,147.3 L229.9,146.7 L229.9,146.5 L231.3,146.5 L231.3,145.6 L233.3,145.6 L235.0,145.6 L235.0,145.0 L236.5,145.0 L236.5,144.7 L236.5,144.2 L238.7,144.2 L240.6,144.2 L240.6,143.0 L242.4,143.0 L242.4,143.0 L243.6,143.0 L243.6,142.0 L243.6,141.9 L245.6,141.9 L247.4,141.9 L247.4,140.8 L249.6,140.8 L249.6,140.7 L251.0,140.7 L251.0,140.0 L253.0,140.0 L253.0,139.7 L253.0,138.9 L254.6,138.9 L256.0,138.9 L256.0,138.4 L257.9,138.4 L257.9,137.6 L259.8,137.6 L259.8,137.1 L261.7,137.1 L261.7,136.8 L263.0,136.8 L263.0,136.8 L263.0,136.0 L265.0,136.0 L267.3,136.0 L267.3,135.0 L269.2,135.0 L269.2,134.5 L270.6,134.5 L270.6,133.6 L273.2,133.6 L273.2,132.6 L273.2,132.0 L275.0,132.0 L277.1,132.0 L277.1,131.5 L278.7,131.5 L278.7,131.5 L280.8,131.5 L280.8,130.9 L282.4,130.9 L282.4,130.2 L282.4,129.8 L284.3,129.8 L284.3,129.8 L285.9,129.8 L287.4,129.8 L287.4,129.1 L289.6,129.1 L289.6,128.9 L291.4,128.9 L291.4,128.5 L291.4,127.8 L293.2,127.8 L295.2,127.8 L295.2,127.5 L295.2,127.1 L296.5,127.1 L296.5,126.5 L298.7,126.5 L300.7,126.5 L300.7,125.3 L302.0,125.3 L302.0,125.0 L302.0,124.0 L303.8,124.0 L303.8,123.0 L305.6,123.0 L305.6,121.6 L307.8,121.6 L307.8,121.2 L309.5,121.2 L309.5,120.2 L311.4,120.2 L313.4,120.2 L313.4,119.2 L313.4,118.4 L314.8,118.4 L316.3,118.4 L316.3,117.9 L316.3,117.6 L318.0,117.6 L319.9,117.6 L319.9,116.6 L319.9,116.2 L321.4,116.2 L323.6,116.2 L323.6,115.0 L324.6,115.0 L324.6,114.5 L326.7,114.5 L326.7,113.8 L328.3,113.8 L328.3,112.9 L328.3,111.7 L330.1,111.7 L331.5,111.7 L331.5,110.6 L331.5,109.9 L333.1,109.9 L333.1,108.9 L334.5,108.9 L334.5,108.3 L336.1,108.3 L336.1,107.1 L337.9,107.1 L339.4,107.1 L339.4,106.2 L341.5,106.2 L341.5,105.1 L341.5,104.4 L343.2,104.4 L344.5,104.4 L344.5,104.1 L344.5,103.3 L347.1,103.3 L347.1,102.7 L348.5,102.7 L348.5,101.6 L350.2,101.6 L352.2,101.6 L352.2,101.1 L354.5,101.1 L354.5,100.5 L354.5,100.5 L355.8,100.5 L358.0,100.5 L358.0,100.3 L358.0,99.8 L360.0,99.8 L361.7,99.8 L361.7,98.4 L361.7,97.1 L363.2,97.1 L363.2,96.1 L364.4,96.1 L365.9,96.1 L365.9,95.2 L365.9,94.0 L367.6,94.0 L369.2,94.0 L369.2,94.0 L371.4,94.0 L371.4,93.8 L371.4,93.0 L372.6,93.0 L374.5,93.0 L374.5,92.8 L376.5,92.8 L376.5,92.6 L376.5,91.8 L378.5,91.8 L378.5,91.8 L379.8,91.8 L382.3,91.8 L382.3,91.5 L383.6,91.5 L383.6,91.4 L383.6,90.9 L385.5,90.9 L385.5,90.5 L387.0,90.5 L389.2,90.5 L389.2,90.2 L389.2,89.6 L390.6,89.6 L390.6,89.2 L393.0,89.2 L393.0,89.2 L394.2,89.2 L394.2,89.1 L396.3,89.1 L397.8,89.1 L397.8,88.2 L400.0,88.2 L400.0,88.0 L400.0,87.3 L402.0,87.3 L402.0,86.7 L403.5,86.7 L403.5,86.6 L405.1,86.6 L407.3,86.6 L407.3,86.0 L407.3,85.2 L409.1,85.2 L410.6,85.2 L410.6,85.1 L412.6,85.1 L412.6,84.7 L414.3,84.7 L414.3,84.4 L416.6,84.4 L416.6,83.9 L416.6,82.8 L417.9,82.8 L420.0,82.8 L420.0,82.6 L421.8,82.6 L421.8,82.1 L421.8,81.3 L423.6,81.3 L425.5,81.3 L425.5,81.0 L427.2,81.0 L427.2,80.3 L427.2,80.3 L428.9,80.3 L428.9,79.2 L431.2,79.2 L431.2,79.2 L432.7,79.2 L432.7,78.3 L434.7,78.3 L436.1,78.3 L436.1,77.8 L438.1,77.8 L438.1,77.5 L438.1,77.0 L440.0,77.0 L441.7,77.0 L441.7,76.6 L441.7,76.3 L444.1,76.3 L444.1,75.4 L445.6,75.4 L445.6,74.7 L448.4,74.7 L448.4,74.6 L450.0,74.6 L450.0,74.2 L452.3,74.2 L454.0,74.2 L454.0,74.2 L456.4,74.2 L456.4,73.6 L456.4,73.1 L457.7,73.1 L457.7,73.0 L460.0,73.0 L461.7,73.0 L461.7,72.5 L463.8,72.5 L463.8,72.0 L463.8,72.0 L466.4,72.0 L466.4,71.4 L468.0,71.4 L468.0,71.0 L470.0,71.0 L472.2,71.0 L472.2,70.1 L472.2,69.3 L474.1,69.3 L476.0,69.3 L476.0,68.0 L477.5,68.0 L477.5,66.5 L477.5,65.5 L479.0,65.5 L480.0,65.5 L480.0,64.0 L480.0,62.8 L482.3,62.8 L482.3,61.0 L484.0,61.0 L484.0,60.8 L486.1,60.8 L486.1,60.3 L487.6,60.3 L487.6,59.4 L489.8,59.4 L491.3,59.4 L491.3,59.4 L493.5,59.4 L493.5,58.8 L495.2,58.8 L495.2,57.9 L496.7,57.9 L496.7,57.4 L496.7,57.2 L498.9,57.2 L500.4,57.2 L500.4,56.6" stroke="#0072bd" stroke-width="2.1" fill="none" stroke-linejoin="round" stroke-linecap="round"/>
<path d="M112.7,362.5 L112.7,360.9 L113.8,360.9 L114.8,360.9 L114.8,359.0 L114.8,357.0 L114.9,357.0 L116.1,357.0 L116.1,355.0 L116.1,353.5 L117.1,353.5 L117.6,353.5 L117.6,351.5 L118.6,351.5 L118.6,350.0 L120.0,350.0 L120.0,348.0 L120.0,346.1 L120.6,346.1 L120.6,344.5 L121.8,344.5 L122.7,344.5 L122.7,342.7 L122.7,341.4 L124.0,341.4 L124.0,339.6 L125.1,339.6 L125.5,339.6 L125.5,338.7 L126.9,338.7 L126.9,336.9 L127.3,336.9 L127.3,334.2 L127.3,331.8 L126.9,331.8 L128.2,331.8 L128.2,330.1 L128.2,328.2 L129.3,328.2 L129.3,325.8 L130.5,325.8 L131.1,325.8 L131.1,324.2 L132.2,324.2 L132.2,321.6 L132.2,320.1 L133.4,320.1 L133.6,320.1 L133.6,318.1 L133.6,316.6 L134.7,316.6 L135.5,316.6 L135.5,314.4 L135.5,312.8 L136.7,312.8 L136.9,312.8 L136.9,310.7 L136.9,308.5 L138.4,308.5 L138.4,306.6 L139.0,306.6 L139.9,306.6 L139.9,305.1 L140.6,305.1 L140.6,302.9 L140.6,300.5 L141.2,300.5 L141.3,300.5 L141.3,298.9 L141.3,297.1 L141.6,297.1 L141.8,297.1 L141.8,294.4 L141.9,294.4 L141.9,292.7 L142.8,292.7 L142.8,291.2 L143.1,291.2 L143.1,289.1 L143.1,287.5 L143.4,287.5 L143.9,287.5 L143.9,285.7 L143.9,283.6 L144.6,283.6 L144.6,282.1 L145.3,282.1 L145.7,282.1 L145.7,280.0 L145.7,278.3 L146.9,278.3 L146.9,276.1 L147.3,276.1 L147.3,274.5 L148.3,274.5 L149.5,274.5 L149.5,272.5 L150.2,272.5 L150.2,271.0 L151.3,271.0 L151.3,268.5 L152.1,268.5 L152.1,266.9 L152.1,265.2 L152.9,265.2 L154.4,265.2 L154.4,263.4 L155.3,263.4 L155.3,261.9 L155.9,261.9 L155.9,260.5 L157.3,260.5 L157.3,258.6 L159.2,258.6 L159.2,257.5 L161.0,257.5 L161.0,255.5 L161.0,253.4 L161.6,253.4 L161.6,253.4 L161.6,251.6 L161.6,251.6 L161.6,249.6 L161.6,247.5 L162.1,247.5 L162.3,247.5 L162.3,245.3 L162.3,244.0 L163.4,244.0 L164.8,244.0 L164.8,242.1 L164.8,240.5 L166.5,240.5 L166.5,239.5 L167.6,239.5 L169.5,239.5 L169.5,238.2 L171.2,238.2 L171.2,236.4 L171.2,234.5 L172.7,234.5 L172.7,232.5 L174.9,232.5 L175.8,232.5 L175.8,231.2 L175.8,229.5 L176.6,229.5 L176.6,227.9 L177.8,227.9 L177.8,226.6 L178.5,226.6 L178.5,224.6 L179.4,224.6 L179.4,222.8 L180.4,222.8 L180.4,221.5 L181.4,221.5 L181.4,220.1 L182.7,220.1 L183.7,220.1 L183.7,218.4 L183.7,217.0 L185.2,217.0 L186.7,217.0 L186.7,215.6 L186.7,213.8 L187.9,213.8 L187.9,212.5 L189.1,212.5 L189.1,210.7 L190.5,210.7 L190.5,209.4 L191.5,209.4 L191.5,208.0 L192.8,208.0 L193.7,208.0 L193.7,206.6 L193.7,204.9 L194.8,204.9 L194.8,202.8 L195.6,202.8 L197.1,202.8 L197.1,201.4 L198.0,201.4 L198.0,200.0 L198.0,198.6 L198.8,198.6 L198.8,196.9 L200.6,196.9 L201.2,196.9 L201.2,195.8 L202.3,195.8 L202.3,194.1 L203.7,194.1 L203.7,192.1 L203.7,191.0 L205.0,191.0 L205.0,189.2 L206.4,189.2 L206.4,188.0 L207.1,188.0 L207.1,186.7 L208.5,186.7 L209.6,186.7 L209.6,185.6 L209.6,184.0 L211.0,184.0 L213.2,184.0 L213.2,183.4 L213.2,182.3 L215.2,182.3 L217.0,182.3 L217.0,182.0 L217.0,180.1 L217.7,180.1 L217.7,177.9 L219.1,177.9 L219.1,176.0 L220.0,176.0 L220.0,174.8 L221.0,174.8 L222.7,174.8 L222.7,173.4 L224.1,173.4 L224.1,171.2 L225.0,171.2 L225.0,170.0 L225.0,168.9 L226.6,168.9 L228.2,168.9 L228.2,167.5 L229.7,167.5 L229.7,166.2 L231.6,166.2 L231.6,165.2 L233.0,165.2 L233.0,164.0 L235.2,164.0 L235.2,163.0 L235.2,162.7 L237.0,162.7 L237.0,162.1 L239.2,162.1 L239.2,161.0 L241.0,161.0 L242.5,161.0 L242.5,159.2 L242.5,158.4 L243.3,158.4 L243.3,156.6 L245.0,156.6 L246.8,156.6 L246.8,155.6 L249.1,155.6 L249.1,155.2 L250.6,155.2 L250.6,153.6 L250.6,153.0 L253.0,153.0 L255.0,153.0 L255.0,152.2 L255.0,151.3 L256.1,151.3 L256.1,151.2 L258.1,151.2 L258.1,150.1 L260.1,150.1 L260.1,149.1 L261.3,149.1 L263.3,149.1 L263.3,148.5 L265.0,148.5 L265.0,148.0 L265.0,147.3 L267.0,147.3 L267.0,146.3 L268.7,146.3 L268.7,145.7 L269.8,145.7 L271.2,145.7 L271.2,144.3 L273.2,144.3 L273.2,143.7 L273.2,143.0 L274.8,143.0 L276.7,143.0 L276.7,142.0 L278.6,142.0 L278.6,141.0 L278.6,140.1 L279.8,140.1 L281.7,140.1 L281.7,139.1 L283.4,139.1 L283.4,138.0 L285.6,138.0 L285.6,137.4 L287.3,137.4 L287.3,136.8 L287.3,136.6 L289.1,136.6 L291.2,136.6 L291.2,136.1 L293.1,136.1 L293.1,135.3 L293.1,135.3 L294.8,135.3 L294.8,134.8 L296.6,134.8 L298.7,134.8 L298.7,134.2 L298.7,133.8 L300.1,133.8 L300.1,132.5 L301.8,132.5 L301.8,131.9 L303.6,131.9 L303.6,131.3 L305.8,131.3 L305.8,130.2 L306.8,130.2 L309.1,130.2 L309.1,129.4 L310.4,129.4 L310.4,129.4 L310.4,128.6 L312.4,128.6 L314.3,128.6 L314.3,127.3 L315.3,127.3 L315.3,127.0 L317.8,127.0 L317.8,126.2 L317.8,125.3 L319.1,125.3 L320.4,125.3 L320.4,124.2 L320.4,123.4 L322.5,123.4 L322.5,122.2 L323.5,122.2 L323.5,120.9 L325.7,120.9 L327.1,120.9 L327.1,120.0 L328.3,120.0 L328.3,118.7 L328.3,117.1 L330.1,117.1 L331.8,117.1 L331.8,116.4 L333.6,116.4 L333.6,115.4 L334.5,115.4 L334.5,114.0 L334.5,112.2 L336.3,112.2 L337.9,112.2 L337.9,111.2 L337.9,110.0 L339.4,110.0 L341.3,110.0 L341.3,109.3 L341.3,107.9 L342.5,107.9 L342.5,107.2 L343.9,107.2 L346.0,107.2 L346.0,105.8 L346.0,105.4 L347.1,105.4 L349.0,105.4 L349.0,104.3 L349.0,103.5 L350.7,103.5 L350.7,102.4 L352.2,102.4 L352.2,102.1 L354.4,102.1 L354.4,100.7 L356.3,100.7 L356.3,100.4 L358.3,100.4 L360.0,100.4" stroke="#b8142c" stroke-width="2.1" fill="none" stroke-linejoin="round" stroke-linecap="round"/>
<path d="M360.0,100.4 L360.0,99.8 L400.0,88.0 L500.4,56.6" stroke="#b8142c" stroke-width="1.6" fill="none" stroke-linejoin="round" stroke-linecap="round"/>
<path d="M73.6,26.0 V392.8 H540.2" stroke="#404040" stroke-width="1.2" fill="none"/>
<path d="M112.7,392.8 v-3.6 M73.6,362.5 h4.5 M190.2,392.8 v-3.6 M73.6,301.3 h4.5 M267.8,392.8 v-3.6 M73.6,240.1 h4.5 M345.3,392.8 v-3.6 M73.6,179.0 h4.5 M422.9,392.8 v-3.6 M73.6,117.8 h4.5 M500.4,392.8 v-3.6 M73.6,56.6 h4.5" stroke="#404040" stroke-width="1.1" fill="none"/>
<text x="109.6" y="406.2" font-size="8.8" text-anchor="start" fill="#484848" stroke="#484848" stroke-width="0.18" textLength="6.2" lengthAdjust="spacingAndGlyphs">0</text>
<text x="61.8" y="367.1" font-size="8.8" text-anchor="start" fill="#484848" stroke="#484848" stroke-width="0.18" textLength="6.2" lengthAdjust="spacingAndGlyphs">0</text>
<text x="182.5" y="406.2" font-size="8.8" text-anchor="start" fill="#484848" stroke="#484848" stroke-width="0.18" textLength="15.4" lengthAdjust="spacingAndGlyphs">0.2</text>
<text x="52.6" y="305.9" font-size="8.8" text-anchor="start" fill="#484848" stroke="#484848" stroke-width="0.18" textLength="15.4" lengthAdjust="spacingAndGlyphs">0.2</text>
<text x="260.1" y="406.2" font-size="8.8" text-anchor="start" fill="#484848" stroke="#484848" stroke-width="0.18" textLength="15.4" lengthAdjust="spacingAndGlyphs">0.4</text>
<text x="52.6" y="244.7" font-size="8.8" text-anchor="start" fill="#484848" stroke="#484848" stroke-width="0.18" textLength="15.4" lengthAdjust="spacingAndGlyphs">0.4</text>
<text x="337.6" y="406.2" font-size="8.8" text-anchor="start" fill="#484848" stroke="#484848" stroke-width="0.18" textLength="15.4" lengthAdjust="spacingAndGlyphs">0.6</text>
<text x="52.6" y="183.6" font-size="8.8" text-anchor="start" fill="#484848" stroke="#484848" stroke-width="0.18" textLength="15.4" lengthAdjust="spacingAndGlyphs">0.6</text>
<text x="415.2" y="406.2" font-size="8.8" text-anchor="start" fill="#484848" stroke="#484848" stroke-width="0.18" textLength="15.4" lengthAdjust="spacingAndGlyphs">0.8</text>
<text x="52.6" y="122.4" font-size="8.8" text-anchor="start" fill="#484848" stroke="#484848" stroke-width="0.18" textLength="15.4" lengthAdjust="spacingAndGlyphs">0.8</text>
<text x="497.3" y="406.2" font-size="8.8" text-anchor="start" fill="#484848" stroke="#484848" stroke-width="0.18" textLength="6.2" lengthAdjust="spacingAndGlyphs">1</text>
<text x="61.8" y="61.2" font-size="8.8" text-anchor="start" fill="#484848" stroke="#484848" stroke-width="0.18" textLength="6.2" lengthAdjust="spacingAndGlyphs">1</text>
<text x="152.0" y="21.6" font-size="10.2" text-anchor="start" fill="#1a1a1a" stroke="#1a1a1a" stroke-width="0.15" font-weight="bold" textLength="27.6" lengthAdjust="spacingAndGlyphs">ROC</text>
<text x="183.4" y="21.6" font-size="10.2" text-anchor="start" fill="#1a1a1a" stroke="#1a1a1a" stroke-width="0.15" font-weight="bold" textLength="34.6" lengthAdjust="spacingAndGlyphs">Curve</text>
<text x="221.8" y="21.6" font-size="10.2" text-anchor="start" fill="#1a1a1a" stroke="#1a1a1a" stroke-width="0.15" font-weight="bold" textLength="16.6" lengthAdjust="spacingAndGlyphs">for</text>
<text x="241.3" y="21.6" font-size="10.2" text-anchor="start" fill="#1a1a1a" stroke="#1a1a1a" stroke-width="0.15" font-weight="bold" textLength="57.6" lengthAdjust="spacingAndGlyphs">Fraudster</text>
<text x="302.7" y="21.6" font-size="10.2" text-anchor="start" fill="#1a1a1a" stroke="#1a1a1a" stroke-width="0.15" font-weight="bold" textLength="52.1" lengthAdjust="spacingAndGlyphs">(Positive</text>
<text x="358.3" y="21.6" font-size="10.2" text-anchor="start" fill="#1a1a1a" stroke="#1a1a1a" stroke-width="0.15" font-weight="bold" textLength="35.0" lengthAdjust="spacingAndGlyphs">class)</text>
<text x="397.2" y="21.6" font-size="10.2" text-anchor="start" fill="#1a1a1a" stroke="#1a1a1a" stroke-width="0.15" font-weight="bold" textLength="63.7" lengthAdjust="spacingAndGlyphs">Customers</text>
<text x="256.5" y="419.7" font-size="10" text-anchor="start" fill="#404040" stroke="#404040" stroke-width="0.2" textLength="100.6" lengthAdjust="spacingAndGlyphs">False positive rate</text>
<g transform="translate(45.8,247.5) rotate(-90)"><g transform="scale(1,1.0)">
<text x="0.0" y="0.0" font-size="11.4" text-anchor="start" fill="#404040" stroke="#404040" stroke-width="0.2" textLength="76.4" lengthAdjust="spacingAndGlyphs">True positive rate</text>
</g></g>
<text x="360.2" y="113.0" font-size="8.6" text-anchor="start" fill="#333333" stroke="#333333" stroke-width="0.2" textLength="55.1" lengthAdjust="spacingAndGlyphs">(0.02,0.78)</text>
<text x="431.1" y="115.4" font-size="8.6" text-anchor="start" fill="#333333" stroke="#333333" stroke-width="0.2" textLength="57.9" lengthAdjust="spacingAndGlyphs">AUC = 0.94</text>
<text x="359.7" y="125.1" font-size="8.6" text-anchor="start" fill="#ff2a2a" stroke="#ff2a2a" stroke-width="0.2" textLength="55.3" lengthAdjust="spacingAndGlyphs">(0.03,0.77)</text>
<text x="431.1" y="126.9" font-size="8.6" text-anchor="start" fill="#ff2a2a" stroke="#ff2a2a" stroke-width="0.2" textLength="57.6" lengthAdjust="spacingAndGlyphs">AUC = 0.91</text>
<text x="359.7" y="136.8" font-size="8.6" text-anchor="start" fill="#9a55b0" stroke="#9a55b0" stroke-width="0.2" textLength="54.9" lengthAdjust="spacingAndGlyphs">(0.04,0.75)</text>
<text x="431.5" y="138.4" font-size="8.6" text-anchor="start" fill="#9a55b0" stroke="#9a55b0" stroke-width="0.2" textLength="58.1" lengthAdjust="spacingAndGlyphs">AUC = 0.89</text>
<text x="359.7" y="148.6" font-size="8.6" text-anchor="start" fill="#ff2af0" stroke="#ff2af0" stroke-width="0.2" textLength="55.3" lengthAdjust="spacingAndGlyphs">(0.05,0.74)</text>
<text x="431.1" y="149.7" font-size="8.6" text-anchor="start" fill="#ff2af0" stroke="#ff2af0" stroke-width="0.2" textLength="57.9" lengthAdjust="spacingAndGlyphs">AUC = 0.88</text>
<text x="360.6" y="160.9" font-size="8.6" text-anchor="start" fill="#1f86cc" stroke="#1f86cc" stroke-width="0.2" textLength="54.4" lengthAdjust="spacingAndGlyphs">(0.07,0.71)</text>
<text x="433.0" y="162.6" font-size="8.6" text-anchor="start" fill="#1f86cc" stroke="#1f86cc" stroke-width="0.2" textLength="58.1" lengthAdjust="spacingAndGlyphs">AUC = 0.85</text>
<text x="360.6" y="172.9" font-size="8.6" text-anchor="start" fill="#f07030" stroke="#f07030" stroke-width="0.2" textLength="54.7" lengthAdjust="spacingAndGlyphs">(0.08,0.70)</text>
<text x="432.6" y="173.7" font-size="8.6" text-anchor="start" fill="#f07030" stroke="#f07030" stroke-width="0.2" textLength="58.5" lengthAdjust="spacingAndGlyphs">AUC = 0.83</text>
<text x="217.9" y="221.1" font-size="9.2" text-anchor="start" fill="#2e2e2e" stroke="#2e2e2e" stroke-width="0.2" textLength="39.0" lengthAdjust="spacingAndGlyphs">Positive</text>
<text x="260.2" y="221.1" font-size="9.2" text-anchor="start" fill="#2e2e2e" stroke="#2e2e2e" stroke-width="0.2" textLength="28.0" lengthAdjust="spacingAndGlyphs">class:</text>
<text x="293.3" y="221.1" font-size="9.2" text-anchor="start" fill="#2e2e2e" stroke="#2e2e2e" stroke-width="0.2" textLength="33.6" lengthAdjust="spacingAndGlyphs">THEFT</text>
<rect x="359.0" y="318.2" width="171.4" height="68" fill="#d0d0d0" opacity="0.5"/>
<rect x="358.4" y="317.6" width="171.4" height="67.6" fill="#ffffff" stroke="#4a4a4a" stroke-width="0.9"/>
<path d="M363,324 H397" stroke="#000000" stroke-width="2" fill="none"/>
<text x="398.4" y="327.4" font-size="8.0" text-anchor="start" fill="#1a1a1a" stroke="#1a1a1a" stroke-width="0.2" textLength="127.2" lengthAdjust="spacingAndGlyphs">Boosted C5.0 Decision Tree</text>
<path d="M363,335.4 H397" stroke="#ff0000" stroke-width="2" fill="none"/>
<text x="398.4" y="337.9" font-size="8.0" text-anchor="start" fill="#1a1a1a" stroke="#1a1a1a" stroke-width="0.2" textLength="69.8" lengthAdjust="spacingAndGlyphs">Random Forest</text>
<path d="M363,346.6 H397" stroke="#8a1fa0" stroke-width="2" fill="none"/>
<text x="398.4" y="349.2" font-size="8.0" text-anchor="start" fill="#1a1a1a" stroke="#1a1a1a" stroke-width="0.2" textLength="64.2" lengthAdjust="spacingAndGlyphs">XGBoost Tree</text>
<path d="M363,358 H397" stroke="#ff10bc" stroke-width="2" fill="none"/>
<text x="398.4" y="360.7" font-size="8.0" text-anchor="start" fill="#1a1a1a" stroke="#1a1a1a" stroke-width="0.2" textLength="87.4" lengthAdjust="spacingAndGlyphs">C5.0 Decision Tree</text>
<path d="M363,368.6 H397" stroke="#0072bd" stroke-width="2" fill="none"/>
<text x="398.4" y="371.8" font-size="8.0" text-anchor="start" fill="#1a1a1a" stroke="#1a1a1a" stroke-width="0.2" textLength="109.4" lengthAdjust="spacingAndGlyphs">Support Vector Machine</text>
<path d="M363,380 H397" stroke="#b8142c" stroke-width="2" fill="none"/>
<text x="398.4" y="382.2" font-size="8.0" text-anchor="start" fill="#1a1a1a" stroke="#1a1a1a" stroke-width="0.2" textLength="108.8" lengthAdjust="spacingAndGlyphs">Artificial Neural Network</text>
</svg>
</body>
</html>
